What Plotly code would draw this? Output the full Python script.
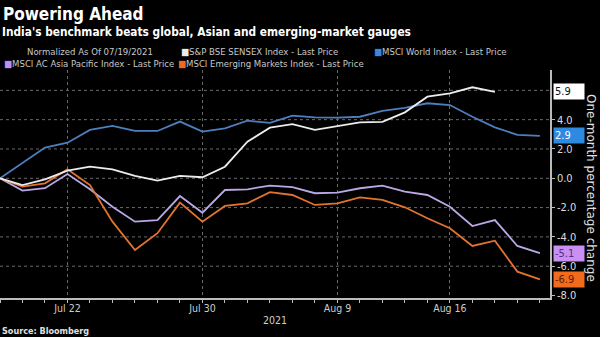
import plotly.graph_objects as go

# trading-day index from 07/19/2021
days = list(range(25))
tick_idx = [3, 9, 15, 20]
tick_labels = ["Jul 22", "Jul 30", "Aug 9", "Aug 16"]

sensex = [0, -0.46, -0.07, 0.52, 0.79, 0.61, 0.16, -0.16, 0.16, 0.07, 0.79, 2.5, 3.45,
          3.7, 3.3, 3.57, 3.82, 3.85, 4.5, 5.57, 5.8, 6.21, 5.9]
world = [0, 1.07, 2.1, 2.43, 3.3, 3.57, 3.23, 3.23, 3.87, 3.18, 3.41, 3.93, 3.78,
         4.28, 4.16, 4.14, 4.2, 4.6, 4.8, 5.12, 5.0, 4.2, 3.48, 2.96, 2.9]
asia = [0, -0.84, -0.68, 0.29, -0.75, -1.94, -2.96, -2.85, -1.21, -2.35, -0.8, -0.75, -0.5,
        -0.6, -1.02, -0.98, -0.68, -0.5, -0.91, -1.14, -1.94, -3.26, -2.85, -4.62, -5.1]
em = [0, -0.57, -0.34, 0.61, -0.46, -2.96, -4.9, -3.75, -1.66, -2.96, -1.89, -1.71, -0.95,
      -1.14, -1.82, -1.71, -1.3, -1.48, -1.98, -2.73, -3.41, -4.62, -4.26, -6.37, -6.9]

y_ticks = [-8, -6, -4, -2, 0, 2, 4]

C_WHITE = "#ececec"
C_BLUE = "#4d7fc0"
C_PURPLE = "#bba8e6"
C_ORANGE = "#e2742f"

FONT = "DejaVu Sans Condensed"
W, H = 600, 337
ML, MR, MT, MB = 0, 50, 70, 39
PW, PH = W - ML - MR, H - MT - MB


def px(x):
    return (x - ML) / PW


def py(y):
    return (H - MB - y) / PH


fig = go.Figure()
for name, vals, col in [
    ("MSCI World Index - Last Price", world, C_BLUE),
    ("MSCI AC Asia Pacific Index - Last Price", asia, C_PURPLE),
    ("MSCI Emerging Markets Index - Last Price", em, C_ORANGE),
    ("S&P BSE SENSEX Index - Last Price", sensex, C_WHITE),
]:
    fig.add_trace(go.Scatter(x=days[:len(vals)], y=vals, mode="lines", name=name,
                             line=dict(color=col, width=1.8), showlegend=False))

ann = []
ann.append(dict(text="<b>Powering Ahead</b>", x=px(1), y=py(14), xanchor="left", yanchor="middle",
                font=dict(size=17, color="#ffffff", family=FONT)))
ann.append(dict(text="<b>India's benchmark beats global, Asian and emerging-market gauges</b>",
                x=px(0), y=py(32), xanchor="left", yanchor="middle",
                font=dict(size=11.8, color="#ffffff", family=FONT)))
leg_font = dict(size=9.5, color="#c8c8c8", family=FONT)
ann.append(dict(text="Normalized As Of 07/19/2021", x=px(25), y=py(51), xanchor="left",
                yanchor="middle", font=leg_font))
for label, col, lx, ly in [
    ("S&P BSE SENSEX Index - Last Price", C_WHITE, 179, 51),
    ("MSCI World Index - Last Price", "#3d86d8", 372, 51),
    ("MSCI AC Asia Pacific Index - Last Price", "#c18ee8", 2, 63),
    ("MSCI Emerging Markets Index - Last Price", "#f06a1c", 176, 63),
]:
    ann.append(dict(text=f"<span style='color:{col}'>■</span>{label}", x=px(lx), y=py(ly),
                    xanchor="left", yanchor="middle", font=leg_font))

# last value boxes
for val, bg, fg in [(sensex[-1], "#ffffff", "#111111"), (world[-1], "#2e8ae0", "#ffffff"),
                    (asia[-1], "#c98ff2", "#5a2d80"), (em[-1], "#f26b1d", "#5a1e00")]:
    ann.append(dict(text=f"{val:.1f}", x=1.005, xref="paper", y=val, yref="y",
                    xanchor="left", yanchor="middle", showarrow=False, bgcolor=bg,
                    font=dict(size=11, color=fg, family=FONT), borderpad=1,
                    width=28, align="left"))

ann.append(dict(text="One-month percentage change", x=px(591), y=py(188), textangle=90,
                xanchor="center", yanchor="middle",
                font=dict(size=12, color="#e0e0e0", family="DejaVu Sans")))
ann.append(dict(text="2021", x=px(275), y=py(320), xanchor="center", yanchor="middle",
                font=dict(size=10.5, color="#d0d0d0", family=FONT)))
ann.append(dict(text="<b>Source: Bloomberg</b>", x=px(0), y=py(331), xanchor="left",
                yanchor="middle", font=dict(size=9, color="#e0e0e0", family=FONT)))

for a in ann:
    a.setdefault("xref", "paper")
    a.setdefault("yref", "paper")
    a.setdefault("showarrow", False)
fig.update_layout(annotations=ann)

fig.update_layout(
    width=W, height=H, margin=dict(l=ML, r=MR, t=MT, b=MB),
    paper_bgcolor="#000000", plot_bgcolor="#000000",
    xaxis=dict(range=[0, 24.45], tickvals=tick_idx, ticktext=tick_labels,
               showgrid=True, gridcolor="#6a6a6a", griddash="dot", gridwidth=1,
               showline=True, linecolor="#bbbbbb", linewidth=1.5,
               ticks="", tickfont=dict(size=10.5, color="#cccccc", family=FONT),
               minor=dict(tick0=0, dtick=1, ticks="outside", ticklen=3, tickcolor="#bbbbbb",
                          showgrid=False),
               zeroline=False, fixedrange=True),
    yaxis=dict(range=[-8.17, 7.39], side="right", tickvals=y_ticks,
               ticktext=[f"{v:.1f}" for v in y_ticks],
               showgrid=False, showline=True, linecolor="#bbbbbb", linewidth=1.5,
               ticks="outside", ticklen=3, tickcolor="#bbbbbb",
               tickfont=dict(size=11, color="#dddddd", family=FONT),
               zeroline=False, fixedrange=True),
    showlegend=False,
)
# horizontal dotted gridlines
for g in [-6, -4, -2, 0, 2, 4, 6]:
    fig.add_shape(type="line", xref="paper", x0=0, x1=1, yref="y", y0=g, y1=g,
                  line=dict(color="#6a6a6a", width=1, dash="dot"), layer="below")

fig.write_html("out.html")
